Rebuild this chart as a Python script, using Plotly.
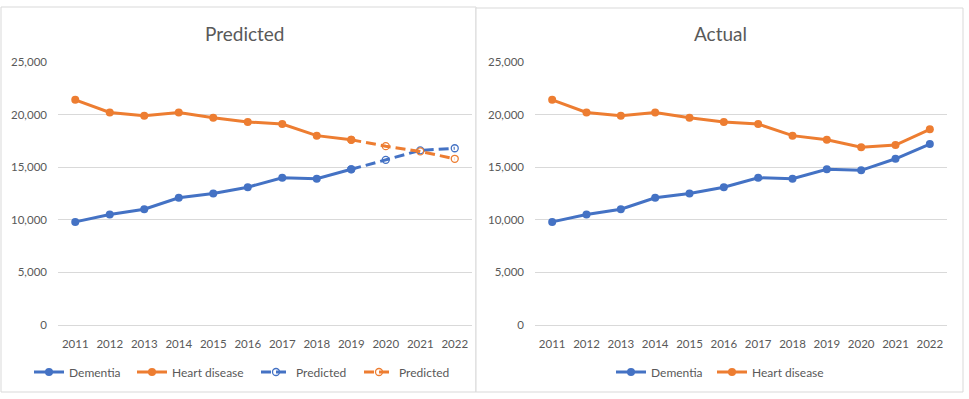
import plotly.graph_objects as go

years = ["2011", "2012", "2013", "2014", "2015", "2016", "2017", "2018", "2019", "2020", "2021", "2022"]

# Predicted panel: observed part 2011-2019
dementia_obs = [9800, 10500, 11000, 12100, 12500, 13100, 14000, 13900, 14800]
heart_obs = [21400, 20200, 19900, 20200, 19700, 19300, 19100, 18000, 17600]
# Predicted part 2019-2022 (starts at the last observed value)
pred_years = ["2019", "2020", "2021", "2022"]
dementia_pred = [14800, 15700, 16600, 16800]
heart_pred = [17600, 17000, 16500, 15800]

# Actual panel 2011-2022
dementia_act = [9800, 10500, 11000, 12100, 12500, 13100, 14000, 13900, 14800, 14700, 15800, 17200]
heart_act = [21400, 20200, 19900, 20200, 19700, 19300, 19100, 18000, 17600, 16900, 17100, 18600]

BLUE = "#4472C4"
ORANGE = "#ED7D31"
GRAY_TXT = "#595959"
GRID = "#D9D9D9"
FONT = "Lato"
W, H = 969, 399

fig = go.Figure()

def px_x(v):
    return v / W

def px_y(v):
    return (H - v) / H

# --- left panel ---
fig.add_trace(go.Scatter(x=pred_years, y=dementia_pred, name="Predicted", mode="lines+markers",
                         line=dict(color=BLUE, width=3, dash="10px,5px"),
                         marker=dict(symbol="circle-open", size=7, color=BLUE, line=dict(width=1.3)),
                         xaxis="x", yaxis="y", legend="legend", legendrank=3, legendwidth=58))
fig.add_trace(go.Scatter(x=pred_years, y=heart_pred, name="Predicted", mode="lines+markers",
                         line=dict(color=ORANGE, width=3, dash="10px,5px"),
                         marker=dict(symbol="circle-open", size=7, color=ORANGE, line=dict(width=1.3)),
                         xaxis="x", yaxis="y", legend="legend", legendrank=4, legendwidth=55))
fig.add_trace(go.Scatter(x=years[:9], y=dementia_obs, name="Dementia", mode="lines+markers",
                         line=dict(color=BLUE, width=3),
                         marker=dict(symbol="circle", size=8, color=BLUE),
                         xaxis="x", yaxis="y", legend="legend", legendrank=1, legendwidth=58))
fig.add_trace(go.Scatter(x=years[:9], y=heart_obs, name="Heart disease", mode="lines+markers",
                         line=dict(color=ORANGE, width=3),
                         marker=dict(symbol="circle", size=8, color=ORANGE),
                         xaxis="x", yaxis="y", legend="legend", legendrank=2, legendwidth=79))

# --- right panel ---
fig.add_trace(go.Scatter(x=years, y=dementia_act, name="Dementia", mode="lines+markers",
                         line=dict(color=BLUE, width=3),
                         marker=dict(symbol="circle", size=8, color=BLUE),
                         xaxis="x2", yaxis="y2", legend="legend2", legendwidth=56))
fig.add_trace(go.Scatter(x=years, y=heart_act, name="Heart disease", mode="lines+markers",
                         line=dict(color=ORANGE, width=3),
                         marker=dict(symbol="circle", size=8, color=ORANGE),
                         xaxis="x2", yaxis="y2", legend="legend2", legendwidth=72))

tickfont = dict(family=FONT, size=11.5, color=GRAY_TXT)
ydom = [px_y(325), px_y(62)]

xcommon = dict(type="category", categoryorder="array", categoryarray=years, range=[-0.5, 11.5],
               showgrid=False, showline=True, linecolor=GRID, linewidth=1, ticks="",
               tickfont=tickfont, ticklabelstandoff=8, fixedrange=True, automargin=False)
ycommon = dict(range=[0, 25000], dtick=5000, tickformat=",", showgrid=True, gridcolor=GRID,
               gridwidth=1, zeroline=False, showline=False, ticks="", tickfont=tickfont,
               ticklabelstandoff=10, fixedrange=True, automargin=False)

legfont = dict(family=FONT, size=12, color=GRAY_TXT)

fig.update_layout(
    width=W, height=H,
    margin=dict(l=0, r=0, t=0, b=0, pad=0, autoexpand=False),
    paper_bgcolor="white", plot_bgcolor="white",
    xaxis=dict(domain=[px_x(58), px_x(472)], anchor="y", **xcommon),
    yaxis=dict(domain=ydom, anchor="x", **ycommon),
    xaxis2=dict(domain=[px_x(535), px_x(947)], anchor="y2", **xcommon),
    yaxis2=dict(domain=ydom, anchor="x2", **ycommon),
    legend=dict(orientation="h", x=px_x(244), y=px_y(372), xanchor="center", yanchor="middle",
                font=legfont, bgcolor="rgba(0,0,0,0)", traceorder="normal"),
    legend2=dict(orientation="h", x=px_x(720), y=px_y(372), xanchor="center", yanchor="middle",
                 font=legfont, bgcolor="rgba(0,0,0,0)"),
    annotations=[
        dict(text="Predicted", x=px_x(245), y=px_y(33), xref="paper", yref="paper",
             showarrow=False, font=dict(family=FONT, size=19, color=GRAY_TXT),
             xanchor="center", yanchor="middle"),
        dict(text="Actual", x=px_x(720), y=px_y(33), xref="paper", yref="paper",
             showarrow=False, font=dict(family=FONT, size=19, color=GRAY_TXT),
             xanchor="center", yanchor="middle"),
    ],
    shapes=[
        dict(type="rect", xref="paper", yref="paper", x0=px_x(1), x1=px_x(476),
             y0=px_y(392), y1=px_y(7), line=dict(color=GRID, width=1), layer="below"),
        dict(type="rect", xref="paper", yref="paper", x0=px_x(476), x1=px_x(963),
             y0=px_y(392), y1=px_y(8), line=dict(color=GRID, width=1), fillcolor="white",
             layer="below"),
    ],
    showlegend=True,
)

fig.write_html("out.html")
